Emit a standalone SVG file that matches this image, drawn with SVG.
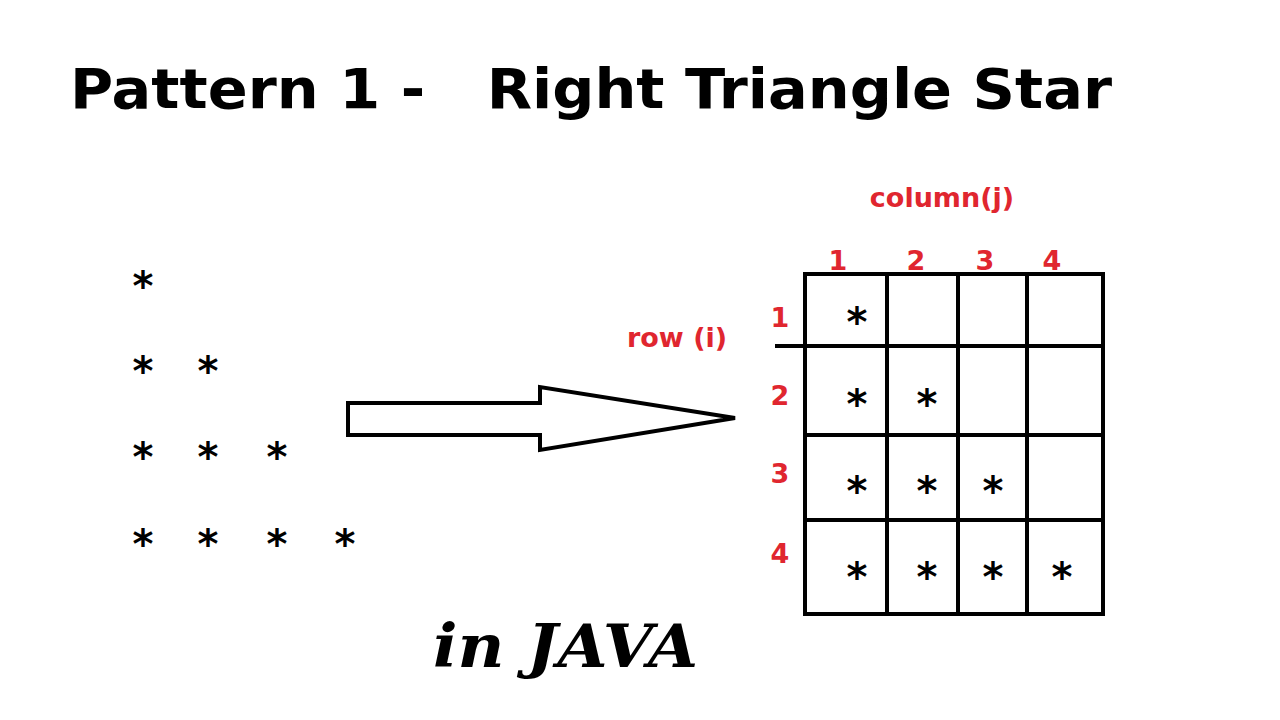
<svg xmlns="http://www.w3.org/2000/svg" width="1280" height="720" viewBox="0 0 1280 720">
<style>
.t{font-family:"DejaVu Sans",sans-serif;font-weight:bold}
.s{font-family:"DejaVu Sans",sans-serif;font-weight:bold;font-size:40px;text-anchor:middle}
.r{font-family:"DejaVu Sans",sans-serif;font-weight:bold;font-size:27px;fill:#e0262f;text-anchor:middle}
.g{fill:none;stroke:#000;stroke-width:4}
</style>
<rect width="1280" height="720" fill="#fff"/>
<text class="t" x="70" y="108" font-size="56" textLength="1042" lengthAdjust="spacingAndGlyphs" xml:space="preserve">Pattern 1 -   Right Triangle Star</text>
<g id="left-stars">
<text class="s" x="143" y="300">*</text>
<text class="s" x="143" y="385">*</text><text class="s" x="208" y="385">*</text>
<text class="s" x="143" y="471">*</text><text class="s" x="208" y="471">*</text><text class="s" x="277" y="471">*</text>
<text class="s" x="143" y="558">*</text><text class="s" x="208" y="558">*</text><text class="s" x="277" y="558">*</text><text class="s" x="345" y="558">*</text>
</g>
<g id="connectors">
<polygon points="348,403 540,403 540,387 735,418 540,450 540,435 348,435" fill="#fff" stroke="#000" stroke-width="4"/>
</g>
<g id="grid">
<rect class="g" x="805" y="274" width="298" height="340"/>
<line class="g" x1="887" y1="274" x2="887" y2="614"/>
<line class="g" x1="958" y1="274" x2="958" y2="614"/>
<line class="g" x1="1027" y1="274" x2="1027" y2="614"/>
<line class="g" x1="775" y1="346" x2="1103" y2="346"/>
<line class="g" x1="805" y1="435" x2="1103" y2="435"/>
<line class="g" x1="805" y1="520" x2="1105" y2="520"/>
<text class="s" x="857" y="336">*</text>
<text class="s" x="857" y="418">*</text><text class="s" x="927" y="418">*</text>
<text class="s" x="857" y="505">*</text><text class="s" x="927" y="505">*</text><text class="s" x="993" y="505">*</text>
<text class="s" x="857" y="591">*</text><text class="s" x="927" y="591">*</text><text class="s" x="993" y="591">*</text><text class="s" x="1062" y="591">*</text>
</g>
<g id="labels">
<text class="r" x="942" y="207">column(j)</text>
<text class="r" x="677" y="347">row (i)</text>
<text class="r" x="838" y="270">1</text><text class="r" x="916" y="270">2</text><text class="r" x="985" y="270">3</text><text class="r" x="1052" y="270">4</text>
<text class="r" x="780" y="327">1</text><text class="r" x="780" y="405">2</text><text class="r" x="780" y="483">3</text><text class="r" x="780" y="563">4</text>
</g>
<text x="433" y="667" font-family="DejaVu Serif,serif" font-weight="bold" font-style="italic" font-size="60" textLength="265" lengthAdjust="spacingAndGlyphs">in JAVA</text>
</svg>
